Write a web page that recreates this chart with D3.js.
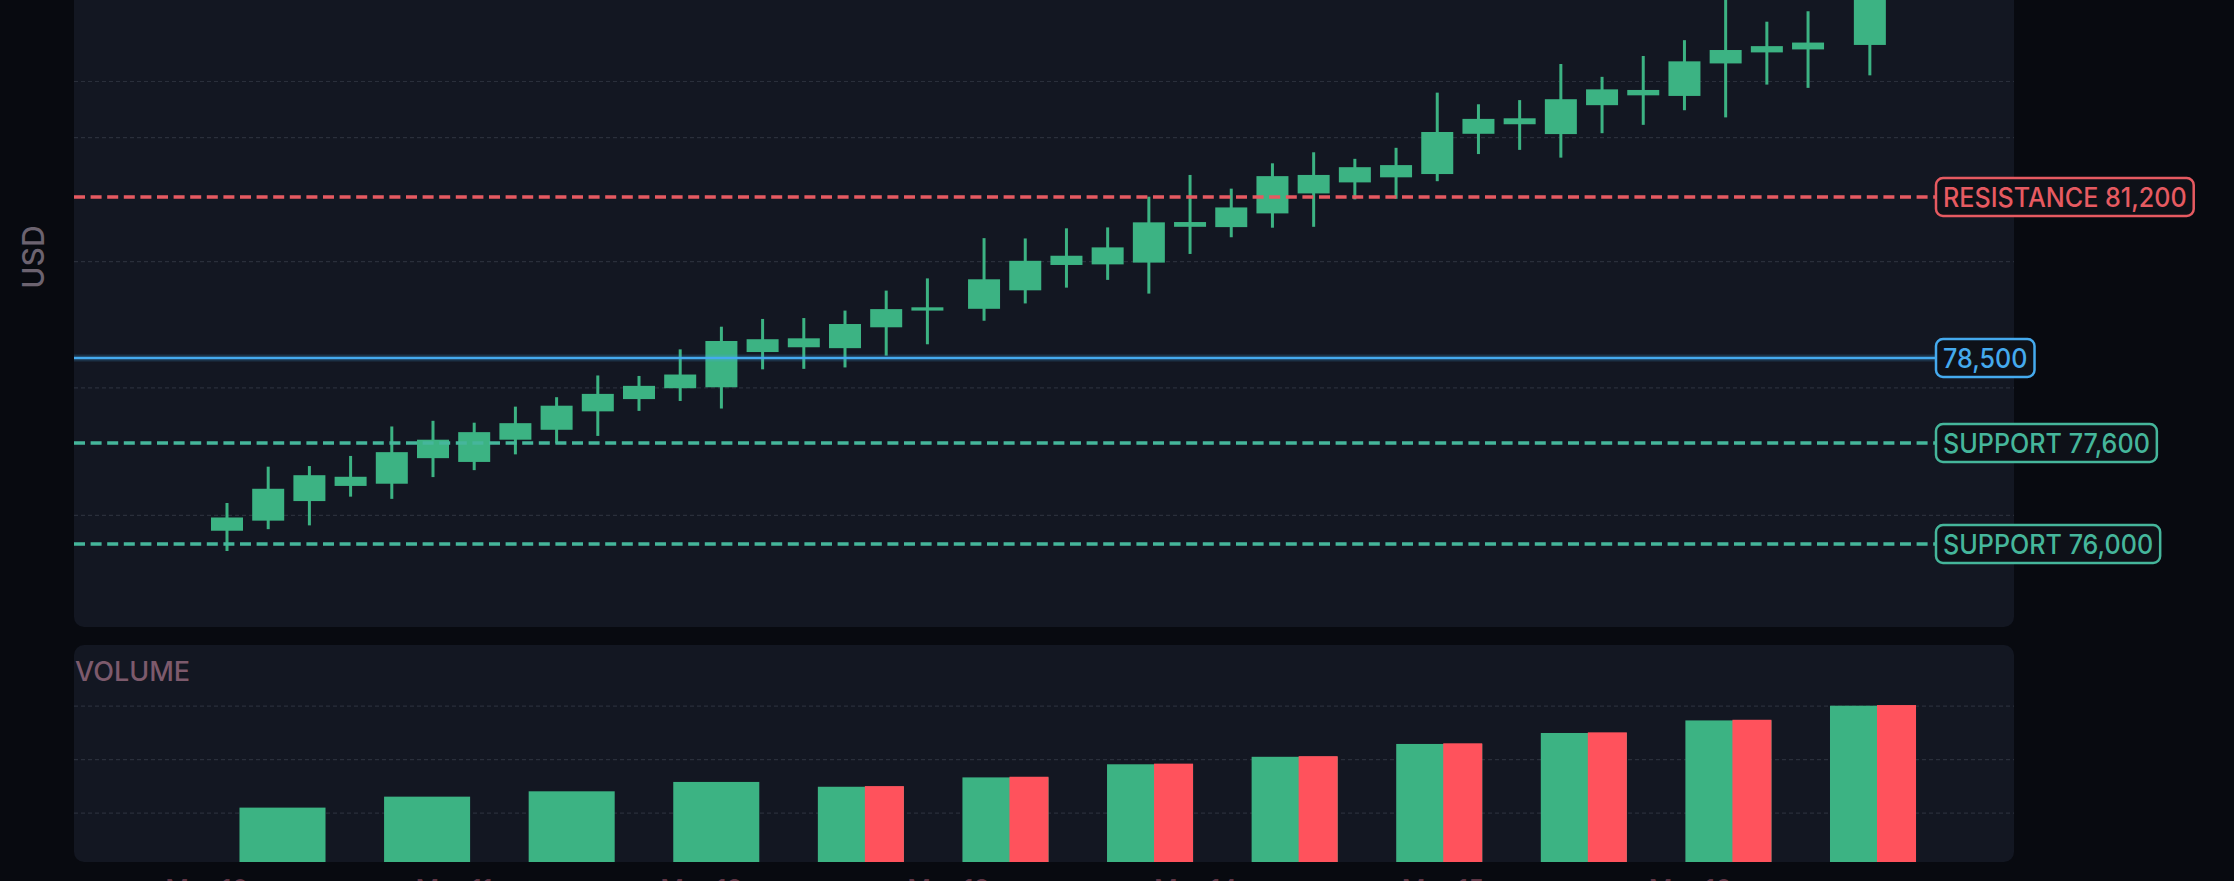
<!DOCTYPE html>
<html><head><meta charset="utf-8">
<script src="https://cdn.jsdelivr.net/npm/d3@7"></script>
<style>
html,body{margin:0;padding:0;background:#080a10;overflow:hidden;}
svg{display:block;}
</style></head><body>
<svg id="chart" width="2234" height="881"></svg>
<script>
// ---------------- DATA ----------------
const times = [
  "2024-03-10 02:00","2024-03-10 06:00","2024-03-10 10:00","2024-03-10 14:00","2024-03-10 18:00","2024-03-10 22:00",
  "2024-03-11 02:00","2024-03-11 06:00","2024-03-11 10:00","2024-03-11 14:00","2024-03-11 18:00","2024-03-11 22:00",
  "2024-03-12 02:00","2024-03-12 06:00","2024-03-12 10:00","2024-03-12 14:00","2024-03-12 18:00","2024-03-12 22:00",
  "2024-03-13 03:30","2024-03-13 07:30","2024-03-13 11:30","2024-03-13 15:30","2024-03-13 19:30","2024-03-13 23:30",
  "2024-03-14 03:30","2024-03-14 07:30","2024-03-14 11:30","2024-03-14 15:30","2024-03-14 19:30","2024-03-14 23:30",
  "2024-03-15 03:30","2024-03-15 07:30","2024-03-15 11:30","2024-03-15 15:30","2024-03-15 19:30","2024-03-15 23:30",
  "2024-03-16 03:30","2024-03-16 07:30","2024-03-16 11:30","2024-03-16 17:30"
];
const opens  = [76210,76370,76680,76920,76955,77360,77300,77635,77740,77935,78065,78180,78190,78600,78680,78665,79015,79295,79325,79635,
                80060,80070,80100,80700,80695,80925,81260,81445,81530,81585,82260,82420,82255,82740,82905,82895,83440,83625,83675,83750];
const highs  = [76650,77225,77235,77395,77775,77835,77815,77985,78085,78315,78310,78645,79025,79155,79170,79295,79630,79835,80510,80505,
                80675,80690,81205,81570,81340,81765,81950,81840,82025,82950,82755,82825,83430,83215,83565,83830,84750,84140,84315,85175];
const lows   = [75890,76235,76295,76750,76715,77060,77170,77420,77595,77675,77940,78045,77965,78380,78385,78400,78540,78730,79125,79415,
                79680,79810,79580,80245,80525,80685,80700,81160,81170,81465,81920,81990,81860,82270,82410,82655,82535,83085,83030,83240];
const closes = [76420,76875,77090,77065,77455,77635,77715,77810,77995,78120,78205,78325,78785,78815,78830,79070,79320,79350,79820,80130,
                80215,80355,80775,80780,81025,81550,81570,81700,81735,82290,82510,82520,82840,83005,82995,83475,83665,83730,83790,84920];

const levelValues = [81200, 78500, 77600, 76000];
const levelLabels = ["RESISTANCE 81,200", "78,500", "SUPPORT 77,600", "SUPPORT 76,000"];
const levelKinds  = ["resistance", "last", "support", "support"];

const priceGrid = [83145, 82205, 80125, 78190, 76460];
const dayTicks = ["2024-03-10 00:00","2024-03-11 00:00","2024-03-12 00:00","2024-03-13 00:00","2024-03-14 00:00","2024-03-15 00:00","2024-03-16 00:00"];

const volumePeriods = ["P01","P02","P03","P04","P05","P06","P07","P08","P09","P10","P11","P12"];
const buyVolume  = [1095,1300,1400,1575,1485,1660,1905,2045,2285,2490,2725,3000];
const sellVolume = [0,0,0,0,1497,1672,1917,2057,2297,2502,2737,3012];
const volumeGrid = [1000, 2000, 3000];

// ---------------- LAYOUT ----------------
const W = 2234, H = 881;
const panelL = 74, panelR = 2014;
const mainTop = -40, mainBot = 627;
const volTop = 645, volBot = 862;
const labelX = 1936;
const FONT = "Inter, 'Noto Sans', sans-serif";

const COL = {
  bg: "#080a10", panel: "#131722", grid: "#2a2f3b",
  up: "#3cb383", sell: "#ff525c",
  resistance: "#e65a61", last: "#45aaee", support: "#45b69b",
  axisText: "#6c6370", volText: "#7d5a6c", tickText: "#5e3444"
};

const parse = d3.timeParse("%Y-%m-%d %H:%M");
const candles = times.map((t, i) => ({t: parse(t), o: opens[i], h: highs[i], l: lows[i], c: closes[i]}));

const x = d3.scaleTime()
  .domain([parse("2024-03-10 00:00"), parse("2024-03-17 00:00")])
  .range([206.4, 1936.8]);

// piecewise linear price scale anchored on the labelled levels
const y = d3.scaleLinear()
  .domain([76000, 77600, 78500, 81200])
  .range([544, 443, 358, 197]);

const xv = d3.scaleBand().domain(volumePeriods).range([210.2, 1945.3]).paddingInner(0.405).paddingOuter(0.2025);
const yv = d3.scaleLinear().domain([0, 3000]).range([866.2, 705.7]);

const svg = d3.select("#chart");
svg.append("rect").attr("width", W).attr("height", H).attr("fill", COL.bg);

const defs = svg.append("defs");
defs.append("clipPath").attr("id", "volClip").append("rect")
  .attr("x", panelL).attr("y", volTop).attr("width", panelR - panelL).attr("height", volBot - volTop).attr("rx", 10);
defs.append("clipPath").attr("id", "mainClip").append("rect")
  .attr("x", panelL).attr("y", mainTop).attr("width", panelR - panelL).attr("height", mainBot - mainTop).attr("rx", 10);

// panels
svg.append("rect").attr("x", panelL).attr("y", mainTop).attr("width", panelR - panelL).attr("height", mainBot - mainTop)
  .attr("rx", 10).attr("fill", COL.panel);
svg.append("rect").attr("x", panelL).attr("y", volTop).attr("width", panelR - panelL).attr("height", volBot - volTop)
  .attr("rx", 10).attr("fill", COL.panel);

// main grid
const yAxisGrid = d3.axisRight(y).tickValues(priceGrid).tickSize(panelR - panelL).tickFormat("");
const gGrid = svg.append("g").attr("transform", `translate(${panelL},0)`).call(yAxisGrid);
gGrid.select(".domain").remove();
gGrid.selectAll(".tick line").attr("stroke", COL.grid).attr("stroke-width", 1.2).attr("stroke-dasharray", "4 3");

// candles
const gC = svg.append("g").attr("clip-path", "url(#mainClip)");
const bodyW = 32;
gC.selectAll("line.wick").data(candles).join("line").attr("class", "wick")
  .attr("x1", d => x(d.t)).attr("x2", d => x(d.t))
  .attr("y1", d => y(d.h)).attr("y2", d => y(d.l))
  .attr("stroke", COL.up).attr("stroke-width", 3);
gC.selectAll("rect.body").data(candles).join("rect").attr("class", "body")
  .attr("x", d => x(d.t) - bodyW / 2).attr("width", bodyW)
  .attr("y", d => y(Math.max(d.o, d.c)))
  .attr("height", d => Math.max(3, Math.abs(y(d.o) - y(d.c))))
  .attr("fill", COL.up);

// level lines
const levels = levelValues.map((v, i) => ({v, label: levelLabels[i], kind: levelKinds[i]}));
const gL = svg.append("g");
levels.forEach(d => {
  const col = COL[d.kind];
  if (d.kind === "last") {
    gL.append("line").attr("x1", panelL).attr("x2", labelX).attr("y1", y(d.v)).attr("y2", y(d.v))
      .attr("stroke", col).attr("stroke-width", 7).attr("stroke-opacity", 0.18);
    gL.append("line").attr("x1", panelL).attr("x2", labelX).attr("y1", y(d.v)).attr("y2", y(d.v))
      .attr("stroke", col).attr("stroke-width", 2.6);
  } else {
    gL.append("line").attr("x1", panelL).attr("x2", labelX).attr("y1", y(d.v)).attr("y2", y(d.v))
      .attr("stroke", col).attr("stroke-width", 3.5).attr("stroke-dasharray", "11 5.6");
  }
});
// level labels
levels.forEach(d => {
  const col = COL[d.kind];
  const g = gL.append("g");
  const box = g.append("rect");
  const t = g.append("text").attr("x", labelX + 7).attr("y", y(d.v) + 10)
    .attr("font-family", FONT).attr("font-size", 27).attr("font-weight", 500)
    .attr("fill", col).text(d.label);
  const w = t.node().getComputedTextLength() * 0.93;
  t.attr("textLength", w).attr("lengthAdjust", "spacingAndGlyphs");
  box.attr("x", labelX).attr("y", y(d.v) - 19).attr("width", w + 14).attr("height", 38).attr("rx", 7)
    .attr("fill", "#0e1118").attr("stroke", col).attr("stroke-width", 2.5);
});

// USD axis label
svg.append("text").attr("transform", `translate(44,257) rotate(-90)`).attr("text-anchor", "middle")
  .attr("font-family", FONT).attr("font-size", 30).attr("font-weight", 500)
  .attr("fill", COL.axisText).text("USD");

// volume grid
const vGrid = d3.axisRight(yv).tickValues(volumeGrid).tickSize(panelR - panelL).tickFormat("");
const gVG = svg.append("g").attr("transform", `translate(${panelL},0)`).call(vGrid);
gVG.select(".domain").remove();
gVG.selectAll(".tick line").attr("stroke", COL.grid).attr("stroke-width", 1.2).attr("stroke-dasharray", "4 3");

// volume bars
const gV = svg.append("g").attr("clip-path", "url(#volClip)");
const split = 0.5465;
gV.selectAll("rect.buy").data(volumePeriods).join("rect").attr("class", "buy")
  .attr("x", d => xv(d)).attr("width", xv.bandwidth())
  .attr("y", (d, i) => yv(buyVolume[i])).attr("height", (d, i) => yv(0) - yv(buyVolume[i]))
  .attr("fill", COL.up);
gV.selectAll("rect.sell").data(volumePeriods.filter((d, i) => sellVolume[i] > 0)).join("rect").attr("class", "sell")
  .attr("x", d => xv(d) + xv.bandwidth() * split).attr("width", xv.bandwidth() * (1 - split))
  .attr("y", d => yv(sellVolume[volumePeriods.indexOf(d)]))
  .attr("height", d => yv(0) - yv(sellVolume[volumePeriods.indexOf(d)]))
  .attr("fill", COL.sell);

svg.append("text").attr("x", 75).attr("y", 681).attr("font-family", FONT).attr("font-weight", 500)
  .attr("font-size", 27).attr("fill", COL.volText).text("VOLUME");

// time axis (only the top of its labels falls inside the picture, as in the reference)
const xAxis = d3.axisBottom(x).tickValues(dayTicks.map(parse)).tickSize(0).tickFormat(d3.timeFormat("%b %d"));
const gX = svg.append("g").attr("transform", "translate(0,878)").call(xAxis);
gX.select(".domain").remove();
gX.selectAll(".tick text").attr("font-family", FONT).attr("font-size", 26).attr("font-weight", 500)
  .attr("fill", COL.tickText).attr("dy", 0).attr("y", 0).attr("dominant-baseline", "hanging");
</script>
</body></html>
